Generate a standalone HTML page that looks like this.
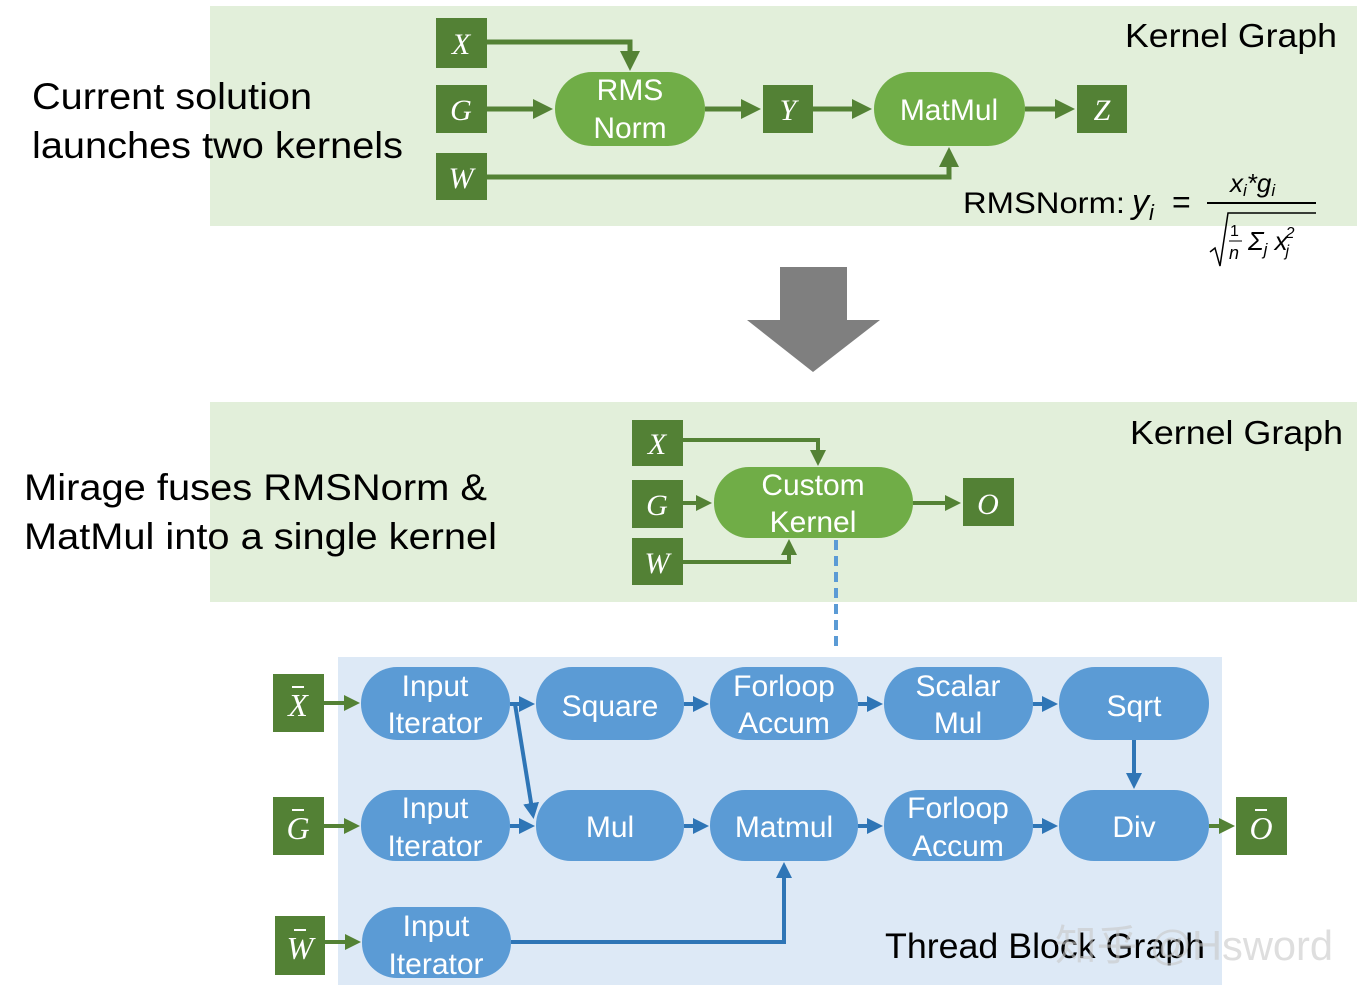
<!DOCTYPE html>
<html><head><meta charset="utf-8"><style>
html,body{margin:0;padding:0;background:#fff;}
svg{display:block;}
text{font-family:"Liberation Sans",sans-serif;}
.m{font-family:"Liberation Serif",serif;font-style:italic;fill:#fff;}
</style></head><body>
<svg width="1368" height="1002" viewBox="0 0 1368 1002" xmlns="http://www.w3.org/2000/svg">
<defs>
<marker id="ga" markerWidth="4" markerHeight="4" refX="3" refY="2" orient="auto" markerUnits="strokeWidth"><path d="M0,0 L4,2 L0,4 z" fill="#548235"/></marker>
<marker id="ba" markerWidth="4" markerHeight="4" refX="3" refY="2" orient="auto" markerUnits="strokeWidth"><path d="M0,0 L4,2 L0,4 z" fill="#2e75b6"/></marker>
</defs>
<rect x="210" y="6" width="1147" height="220" fill="#e2efda"/>
<text x="1125" y="47" font-size="33" textLength="212" lengthAdjust="spacingAndGlyphs">Kernel Graph</text>
<text x="32" y="109" font-size="37" textLength="280" lengthAdjust="spacingAndGlyphs">Current solution</text>
<text x="32" y="158" font-size="37" textLength="371" lengthAdjust="spacingAndGlyphs">launches two kernels</text>
<g fill="#538135">
<rect x="436" y="18" width="51" height="50"/><rect x="436" y="85" width="51" height="48"/><rect x="436" y="153" width="51" height="47"/>
<rect x="763" y="85" width="50" height="48"/><rect x="1077" y="85" width="50" height="48"/>
</g>
<g font-size="30" text-anchor="middle">
<text class="m" x="461" y="54">X</text><text class="m" x="461" y="120">G</text><text class="m" x="461" y="188">W</text>
<text class="m" x="788" y="120">Y</text><text class="m" x="1102" y="120">Z</text>
</g>
<rect x="555" y="72" width="150" height="74" rx="37" fill="#70ad47"/>
<rect x="874" y="72" width="151" height="74" rx="37" fill="#70ad47"/>
<g fill="#fff" font-size="30" text-anchor="middle">
<text x="630" y="100">RMS</text><text x="630" y="138">Norm</text><text x="949" y="120">MatMul</text>
</g>
<g stroke="#548235" stroke-width="5" fill="none" marker-end="url(#ga)">
<path d="M487,42 H630 V66"/><path d="M487,109 H548"/><path d="M705,109 H756"/><path d="M813,109 H867"/><path d="M1025,109 H1070"/><path d="M487,177 H949 V152"/>
</g>
<text x="963" y="213" font-size="30" textLength="162" lengthAdjust="spacingAndGlyphs">RMSNorm:</text>
<text x="1132" y="213" font-size="34" font-family="Liberation Serif" font-style="italic">y<tspan font-size="22" dy="7">i</tspan></text>
<text x="1172" y="213" font-size="32">=</text>
<text x="1230" y="192" font-size="26" font-family="Liberation Serif" font-style="italic">x<tspan font-size="17" dy="4">i</tspan><tspan dy="-4">*g</tspan><tspan font-size="17" dy="4">i</tspan></text>
<line x1="1207" y1="203" x2="1316" y2="203" stroke="#000" stroke-width="2"/>
<path d="M1210,252 L1215,248 L1220,266 L1228,213 H1316" stroke="#000" stroke-width="1.5" fill="none"/>
<text x="1230" y="236" font-size="16">1</text><line x1="1229" y1="241" x2="1242" y2="241" stroke="#000"/>
<text x="1229" y="259" font-size="18" font-family="Liberation Serif" font-style="italic">n</text>
<text x="1248" y="250" font-size="26" font-family="Liberation Serif" font-style="italic">Σ<tspan font-size="17" dy="5">j</tspan><tspan dy="-5" font-size="26"> x</tspan><tspan font-size="16" dx="-2" dy="-12">2</tspan><tspan font-size="16" dx="-9" dy="18">j</tspan></text>
<path d="M780,267 H847 V320 H880 L813,372 L747,320 H780 Z" fill="#7f7f7f"/>
<rect x="210" y="402" width="1147" height="200" fill="#e2efda"/>
<text x="1130" y="444" font-size="33" textLength="213" lengthAdjust="spacingAndGlyphs">Kernel Graph</text>
<text x="24" y="500" font-size="37" textLength="463" lengthAdjust="spacingAndGlyphs">Mirage fuses RMSNorm &amp;</text>
<text x="24" y="549" font-size="37" textLength="473" lengthAdjust="spacingAndGlyphs">MatMul into a single kernel</text>
<g fill="#538135">
<rect x="632" y="420" width="51" height="46"/><rect x="632" y="480" width="51" height="48"/><rect x="632" y="538" width="51" height="47"/><rect x="963" y="478" width="51" height="48"/>
</g>
<g font-size="30" text-anchor="middle">
<text class="m" x="657" y="454">X</text><text class="m" x="657" y="515">G</text><text class="m" x="657" y="573">W</text><text class="m" x="988" y="514">O</text>
</g>
<rect x="714" y="467" width="199" height="71" rx="35" fill="#70ad47"/>
<g fill="#fff" font-size="30" text-anchor="middle"><text x="813" y="495">Custom</text><text x="813" y="532">Kernel</text></g>
<g stroke="#548235" stroke-width="4" fill="none" marker-end="url(#ga)">
<path d="M683,440 H818 V462"/><path d="M683,503 H708"/><path d="M683,562 H789 V543"/><path d="M913,503 H957"/>
</g>
<line x1="836" y1="540" x2="836" y2="652" stroke="#5b9bd5" stroke-width="4" stroke-dasharray="10,6"/>
<rect x="338" y="657" width="884" height="328" fill="#dde9f6"/>
<g fill="#5b9bd5">
<rect x="361" y="667" width="149" height="73" rx="36"/><rect x="536" y="667" width="148" height="73" rx="36"/><rect x="710" y="667" width="148" height="73" rx="36"/><rect x="884" y="667" width="149" height="73" rx="36"/><rect x="1059" y="667" width="150" height="73" rx="36"/>
<rect x="361" y="790" width="149" height="71" rx="35"/><rect x="536" y="790" width="148" height="71" rx="35"/><rect x="710" y="790" width="148" height="71" rx="35"/><rect x="884" y="790" width="149" height="71" rx="35"/><rect x="1059" y="790" width="150" height="71" rx="35"/>
<rect x="362" y="907" width="149" height="71" rx="35"/>
</g>
<g fill="#fff" font-size="30" text-anchor="middle">
<text x="435" y="696">Input</text><text x="435" y="733">Iterator</text>
<text x="610" y="716">Square</text>
<text x="784" y="696">Forloop</text><text x="784" y="733">Accum</text>
<text x="958" y="696">Scalar</text><text x="958" y="733">Mul</text>
<text x="1134" y="716">Sqrt</text>
<text x="435" y="818">Input</text><text x="435" y="856">Iterator</text>
<text x="610" y="837">Mul</text>
<text x="784" y="837">Matmul</text>
<text x="958" y="818">Forloop</text><text x="958" y="856">Accum</text>
<text x="1134" y="837">Div</text>
<text x="436" y="936">Input</text><text x="436" y="974">Iterator</text>
</g>
<g fill="#538135">
<rect x="273" y="674" width="51" height="58"/><rect x="273" y="797" width="51" height="58"/><rect x="275" y="916" width="50" height="59"/><rect x="1236" y="797" width="51" height="58"/>
</g>
<g font-size="32" text-anchor="middle">
<text class="m" x="298" y="716">X</text><text class="m" x="298" y="839">G</text><text class="m" x="300" y="959">W</text><text class="m" x="1261" y="839">O</text>
</g>
<g stroke="#fff" stroke-width="2"><line x1="292" y1="687" x2="304" y2="687"/><line x1="292" y1="810" x2="304" y2="810"/><line x1="294" y1="930" x2="306" y2="930"/><line x1="1255" y1="810" x2="1267" y2="810"/></g>
<g stroke="#548235" stroke-width="4" fill="none" marker-end="url(#ga)">
<path d="M324,703 H356"/><path d="M324,826 H356"/><path d="M325,942 H357"/><path d="M1209,826 H1231"/>
</g>
<g stroke="#2e75b6" stroke-width="4" fill="none" marker-end="url(#ba)">
<path d="M510,704 H531"/><path d="M684,704 H705"/><path d="M858,704 H879"/><path d="M1033,704 H1054"/>
<path d="M510,826 H531"/><path d="M684,826 H705"/><path d="M858,826 H879"/><path d="M1033,826 H1054"/>
<path d="M1134,740 V785"/><path d="M515,704 L533,815"/><path d="M511,942 H784 V866"/>
</g>
<text x="885" y="958" font-size="35" textLength="320" lengthAdjust="spacingAndGlyphs">Thread Block Graph</text>
<text x="1055" y="960" font-size="42" fill="#c8c8c8" fill-opacity="0.6" font-family="Liberation Sans,Noto Sans CJK SC,sans-serif" textLength="278" lengthAdjust="spacingAndGlyphs">知乎 @Hsword</text>
</svg>
</body></html>
